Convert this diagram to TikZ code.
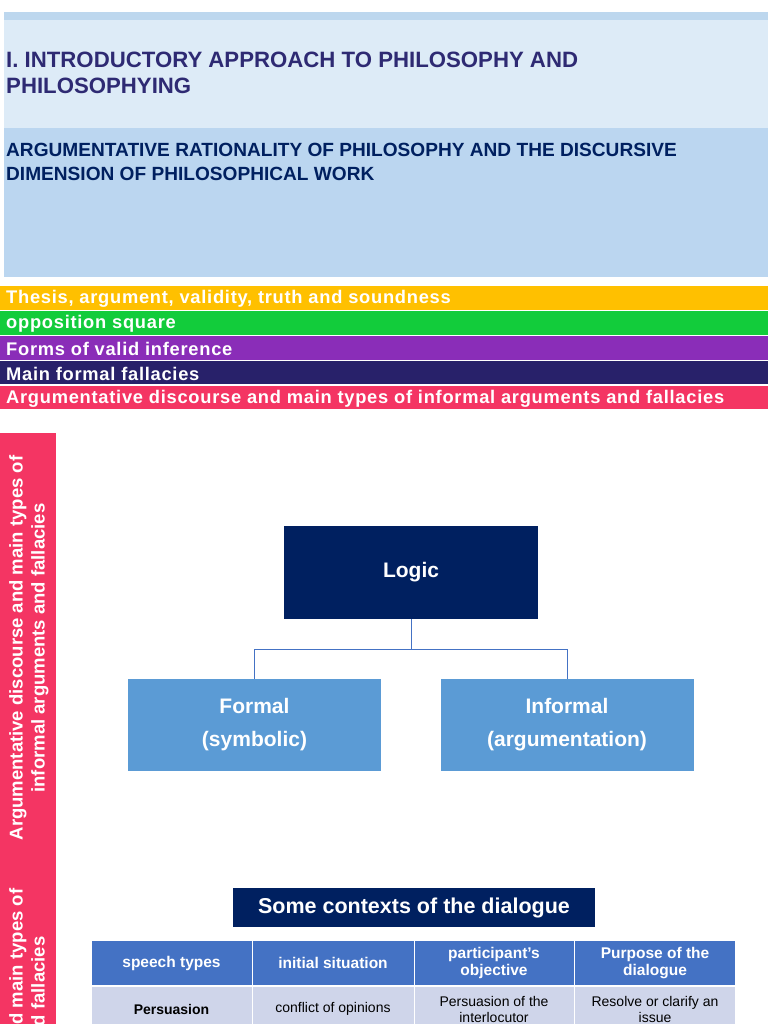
\documentclass[tikz,border=0pt]{standalone}
\usepackage{fontspec}
\setmainfont{Liberation Sans}
\begin{document}
\begin{tikzpicture}[x=1pt,y=-1pt,
  bar/.style={anchor=west,text=white,font=\bfseries\fontsize{18.3}{20}\selectfont\addfontfeatures{LetterSpace=4}\ignorespaces,inner sep=0pt},
  box/.style={draw=none,text=white,align=center},
  th/.style={fill=hdr,text=white,font=\bfseries\fontsize{15.5}{17}\selectfont,align=center,inner sep=0pt},
  td/.style={fill=rowc,text=black,font=\fontsize{14}{16}\selectfont,align=center,inner sep=0pt}]
\definecolor{strip}{HTML}{BDD7EE}
\definecolor{tbox}{HTML}{DDEBF7}
\definecolor{sbox}{HTML}{BBD6F0}
\definecolor{navy}{HTML}{002060}
\definecolor{titlec}{HTML}{2E2A73}
\definecolor{blu}{HTML}{5B9BD5}
\definecolor{hdr}{HTML}{4472C4}
\definecolor{rowc}{HTML}{CFD5EA}
\definecolor{yelbar}{HTML}{FFC000}
\definecolor{grnbar}{HTML}{12CC3B}
\definecolor{purbar}{HTML}{8A2DB8}
\definecolor{navbar}{HTML}{28216A}
\definecolor{redbar}{HTML}{F43563}
\useasboundingbox (0,0) rectangle (768,1024);
\fill[white] (0,0) rectangle (768,1024);
\fill[strip] (4,12) rectangle (768,20);
\fill[tbox] (4,20) rectangle (768,128);
\fill[sbox] (4,128) rectangle (768,277);
\node[anchor=north west,text=titlec,font=\bfseries\fontsize{22.2}{26}\selectfont,align=left,inner sep=0pt] (t1) at (6,52) {I. INTRODUCTORY APPROACH TO PHILOSOPHY AND\\PHILOSOPHYING};
\node[anchor=north west,text=navy,font=\bfseries\fontsize{19.1}{24}\selectfont,align=left,inner sep=0pt] (t2) at (6,143) {ARGUMENTATIVE RATIONALITY OF PHILOSOPHY AND THE DISCURSIVE\\DIMENSION OF PHILOSOPHICAL WORK};
\fill[yelbar] (0,286) rectangle (768,310);
\fill[grnbar] (0,311) rectangle (768,335);
\fill[purbar] (0,336) rectangle (768,360);
\fill[navbar] (0,361) rectangle (768,384);
\fill[redbar] (0,386) rectangle (768,409);
\node[bar] (b1) at (6,299) {Thesis, argument, validity, truth and soundness};
\node[bar] (b2) at (6,324) {opposition square};
\node[bar] (b3) at (6,349) {Forms of valid inference};
\node[bar] (b4) at (6,374) {Main formal fallacies};
\node[bar] (b5) at (6,399) {Argumentative discourse and main types of informal arguments and fallacies};
\fill[redbar] (0,433) rectangle (56,1024);
\begin{scope}
\clip (0,433) rectangle (56,1024);
\node[rotate=90,text=white,font=\bfseries\fontsize{18.5}{22}\selectfont,align=center,inner sep=0pt] (v1) at (29,648) {Argumentative discourse and main types of\\informal arguments and fallacies};
\node[rotate=90,text=white,font=\bfseries\fontsize{18.5}{22}\selectfont,align=center,inner sep=0pt] (v2) at (29,1081) {Argumentative discourse and main types of\\informal arguments and fallacies};
\end{scope}
\node[box,fill=navy,minimum width=254,minimum height=93,font=\bfseries\fontsize{21}{24}\selectfont] (logic) at (411,572.5) {Logic};
\node[box,fill=blu,minimum width=253,minimum height=92,font=\bfseries\fontsize{21}{33}\selectfont] (formal) at (254.5,725) {Formal\\(symbolic)};
\node[box,fill=blu,minimum width=253,minimum height=92,font=\bfseries\fontsize{21}{33}\selectfont] (informal) at (567,725) {Informal\\(argumentation)};
\draw[hdr,line width=0.8] (logic.south) -- ++(0,30) -| (formal.north);
\draw[hdr,line width=0.8] (logic.south) -- ++(0,30) -| (informal.north);
\node[box,fill=navy,minimum width=362,minimum height=39,font=\bfseries\fontsize{21.5}{24}\selectfont] (ctx) at (414,907.5) {Some contexts of the dialogue};
\node[th,minimum width=160,minimum height=44] (h1) at (171.5,963) {speech types};
\node[th,minimum width=161,minimum height=44] (h2) at (333,963) {initial situation};
\node[th,minimum width=159,minimum height=44] (h3) at (494,963) {participant's\\objective};
\node[th,minimum width=160,minimum height=44] (h4) at (655,963) {Purpose of the\\dialogue};
\node[td,minimum width=160,minimum height=44,font=\bfseries\fontsize{14}{16}\selectfont] (r1) at (171.5,1009) {Persuasion};
\node[td,minimum width=161,minimum height=44] (r2) at (333,1009) {conflict of opinions};
\node[td,minimum width=159,minimum height=44] (r3) at (494,1009) {Persuasion of the\\interlocutor};
\node[td,minimum width=160,minimum height=44] (r4) at (655,1009) {Resolve or clarify an\\issue};
\end{tikzpicture}
\end{document}
